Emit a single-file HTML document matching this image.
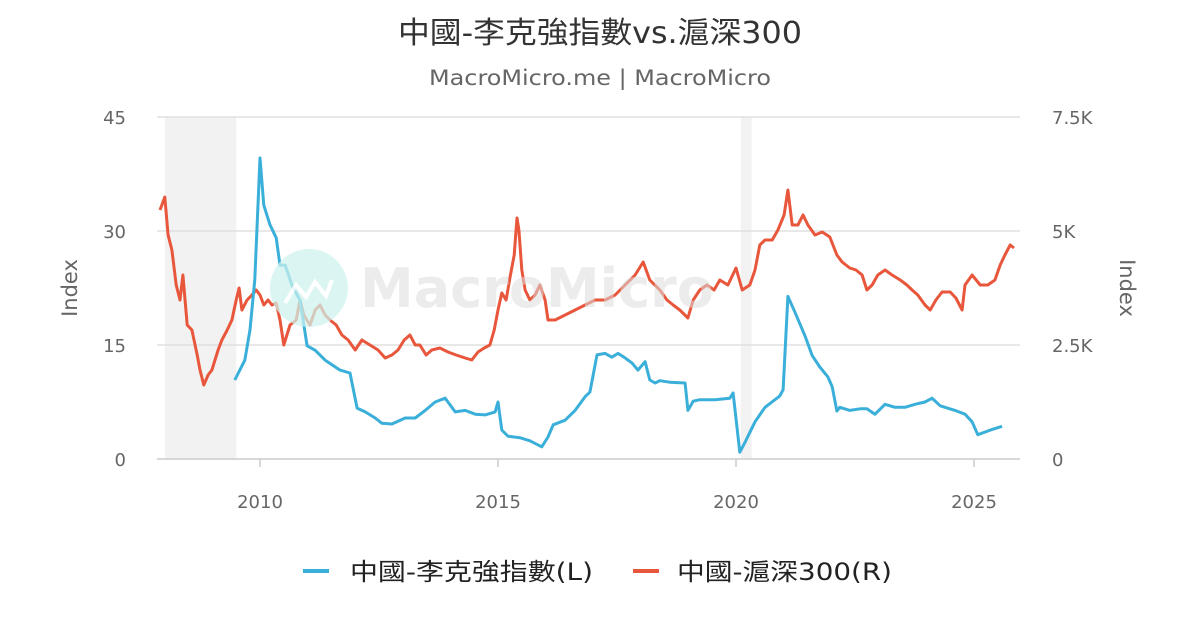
<!DOCTYPE html>
<html><head><meta charset="utf-8">
<style>
body{margin:0;background:#fff;width:1200px;height:630px;overflow:hidden;font-family:"Liberation Sans","Noto Sans CJK TC",sans-serif;}
svg text{font-family:"DejaVu Sans","Liberation Sans","Noto Sans CJK TC",sans-serif;}
</style></head>
<body>
<svg id="chart" width="1200" height="630" xmlns="http://www.w3.org/2000/svg">
<text x="600" y="43" text-anchor="middle" font-size="30" fill="#333" textLength="404" lengthAdjust="spacingAndGlyphs" style="font-family:'DejaVu Sans','Noto Sans CJK TC',sans-serif">中國-李克強指數vs.滬深300</text>
<text x="600" y="85" text-anchor="middle" font-size="21" fill="#666" textLength="342" lengthAdjust="spacingAndGlyphs">MacroMicro.me | MacroMicro</text>
<g id="grid"></g>
<g id="series"></g>
<g opacity="0.9">
<circle cx="309" cy="288" r="39" fill="#cdf3ec" opacity="0.8"/>
<polyline points="285,303 296,285 306,297 315,282 326,296 332,280" fill="none" stroke="#fff" stroke-width="4"/>
<text x="360" y="307" font-size="54" font-weight="bold" fill="#ddd" opacity="0.6">MacroMicro</text>
</g>
<text transform="translate(77,288) rotate(-90)" text-anchor="middle" font-size="21" fill="#666">Index</text>
<text transform="translate(1120,288) rotate(90)" text-anchor="middle" font-size="21" fill="#666">Index</text>
<g>
<line x1="303" y1="571" x2="329" y2="571" stroke="#3aafd9" stroke-width="4"/>
<text x="350" y="580" font-size="24" fill="#222" textLength="243" lengthAdjust="spacingAndGlyphs" style="font-family:'DejaVu Sans','Noto Sans CJK TC',sans-serif">中國-李克強指數(L)</text>
</g>
<g>
<line x1="633" y1="571" x2="659" y2="571" stroke="#e8563b" stroke-width="4"/>
<text x="677" y="580" font-size="24" fill="#222" textLength="215" lengthAdjust="spacingAndGlyphs" style="font-family:'DejaVu Sans','Noto Sans CJK TC',sans-serif">中國-滬深300(R)</text>
</g>
</svg>
<script>
const liYears=[2009.47,2009.68,2009.79,2009.89,2010.00,2010.08,2010.21,2010.34,2010.42,2010.53,2010.67,2010.84,2010.99,2011.16,2011.37,2011.68,2011.89,2012.04,2012.21,2012.42,2012.56,2012.77,2013.05,2013.26,2013.47,2013.68,2013.89,2014.10,2014.31,2014.52,2014.73,2014.94,2015.00,2015.08,2015.21,2015.46,2015.67,2015.92,2016.05,2016.16,2016.41,2016.62,2016.83,2016.93,2017.08,2017.25,2017.39,2017.52,2017.67,2017.82,2017.94,2018.09,2018.19,2018.30,2018.40,2018.61,2018.93,2018.99,2019.10,2019.24,2019.56,2019.87,2019.94,2020.08,2020.19,2020.40,2020.61,2020.82,2020.92,2020.99,2021.09,2021.24,2021.45,2021.60,2021.76,2021.93,2022.02,2022.12,2022.18,2022.39,2022.61,2022.75,2022.92,2023.13,2023.34,2023.55,2023.76,2023.97,2024.12,2024.29,2024.60,2024.81,2024.96,2025.08,2025.34,2025.59];
const liValues=[10.4,13.0,17.0,23.6,39.6,33.4,30.8,29.1,25.5,25.5,22.9,20.9,14.9,14.3,13.0,11.7,11.3,6.7,6.2,5.4,4.7,4.6,5.4,5.4,6.4,7.5,8.0,6.2,6.4,5.9,5.8,6.2,7.5,3.8,3.0,2.8,2.4,1.6,2.9,4.5,5.1,6.4,8.2,8.8,13.7,13.9,13.4,13.9,13.3,12.6,11.7,12.8,10.4,10.0,10.3,10.1,10.0,6.4,7.6,7.8,7.8,8.0,8.7,0.9,2.2,4.9,6.8,7.8,8.3,9.1,21.4,19.3,16.2,13.6,12.1,10.8,9.5,6.3,6.8,6.4,6.6,6.6,5.9,7.2,6.8,6.8,7.2,7.5,8.0,7.0,6.4,5.9,4.9,3.2,3.8,4.3];
const csiYears=[2007.90,2008.00,2008.07,2008.15,2008.24,2008.32,2008.38,2008.47,2008.57,2008.68,2008.74,2008.82,2008.91,2008.99,2009.12,2009.20,2009.31,2009.41,2009.50,2009.56,2009.62,2009.73,2009.83,2009.92,2010.00,2010.08,2010.17,2010.25,2010.34,2010.42,2010.50,2010.63,2010.76,2010.84,2010.92,2011.05,2011.16,2011.26,2011.37,2011.47,2011.60,2011.72,2011.85,2012.00,2012.14,2012.31,2012.48,2012.63,2012.77,2012.90,2013.03,2013.15,2013.26,2013.36,2013.49,2013.61,2013.78,2013.95,2014.12,2014.31,2014.45,2014.58,2014.71,2014.83,2014.92,2015.00,2015.08,2015.17,2015.25,2015.34,2015.40,2015.44,2015.50,2015.57,2015.67,2015.78,2015.88,2015.99,2016.05,2016.20,2016.41,2016.62,2016.83,2017.04,2017.25,2017.46,2017.67,2017.88,2018.05,2018.19,2018.40,2018.55,2018.68,2018.82,2018.99,2019.10,2019.24,2019.39,2019.54,2019.66,2019.83,2020.00,2020.13,2020.29,2020.40,2020.50,2020.61,2020.76,2020.88,2021.01,2021.09,2021.18,2021.30,2021.41,2021.51,2021.66,2021.81,2021.97,2022.12,2022.23,2022.39,2022.52,2022.65,2022.75,2022.86,2022.98,2023.13,2023.28,2023.45,2023.59,2023.70,2023.82,2023.97,2024.08,2024.20,2024.33,2024.50,2024.62,2024.75,2024.81,2024.96,2025.13,2025.29,2025.44,2025.55,2025.65,2025.76,2025.84];
const csiValues=[5460,5745,4912,4583,3816,3487,4035,2939,2829,2281,1952,1623,1842,1952,2390,2610,2829,3048,3487,3750,3268,3487,3597,3706,3597,3377,3487,3377,3421,3048,2500,2939,3048,3487,3158,2939,3268,3377,3158,3048,2939,2719,2610,2390,2610,2500,2390,2215,2281,2390,2610,2719,2500,2500,2281,2390,2434,2347,2281,2215,2171,2347,2434,2500,2829,3268,3640,3487,3969,4474,5285,5022,4145,3706,3487,3597,3816,3487,3048,3048,3158,3268,3377,3487,3487,3597,3816,4035,4320,3925,3706,3487,3377,3268,3092,3487,3706,3816,3706,3925,3816,4189,3706,3816,4145,4693,4803,4803,5022,5351,5899,5131,5131,5351,5131,4912,4978,4868,4474,4320,4189,4145,4035,3706,3816,4035,4145,4035,3925,3816,3706,3597,3377,3268,3487,3662,3662,3530,3268,3816,4035,3816,3816,3925,4254,4474,4693,4627];
const leftTicks=[0,15,30,45];
const rightTickLabels=["0","2.5K","5K","7.5K"];
const xTicks=[2010,2015,2020,2025];
const recessions=[[2008.0,2009.5],[2020.1,2020.33]];

const NS="http://www.w3.org/2000/svg";
const X0=157,X1=1020,Y0=459,Y1=117;
const xs=y=>260+(y-2010)*47.6;
const yl=v=>Y0-v*(Y0-Y1)/45;
const yr=v=>Y0-v*(Y0-Y1)/7500;
const grid=document.getElementById('grid'),ser=document.getElementById('series');
function mk(tag,attrs,parent,txt){const e=document.createElementNS(NS,tag);for(const k in attrs)e.setAttribute(k,attrs[k]);if(txt!==undefined)e.textContent=txt;parent.appendChild(e);return e;}
recessions.forEach(r=>{
 const e=mk('rect',{x:xs(r[0]),y:Y1,width:xs(r[1])-xs(r[0]),height:Y0-Y1,fill:'#f2f2f2'},grid);
 
 
});
leftTicks.forEach((t,i)=>{
 const y=yl(t);
 const l=mk('line',{x1:X0,x2:X1,y1:y,y2:y,stroke:i==0?'#ccc':'#e0e0e0','stroke-width':1.5},grid);
 
 
 const a=mk('text',{x:126,y:y+7,'text-anchor':'end','font-size':18,fill:'#666'},grid,String(t));
 
 
 const b=mk('text',{x:1052,y:y+7,'font-size':18,fill:'#666'},grid,rightTickLabels[i]);
 
 
});
xTicks.forEach(t=>{
 const x=xs(t);
 mk('line',{x1:x,x2:x,y1:Y0,y2:Y0+8,stroke:'#ccc','stroke-width':1.5},grid);
 const a=mk('text',{x:x,y:Y0+49,'text-anchor':'middle','font-size':18,fill:'#666'},grid,String(t));
 
 
});
function path(xsArr,vals,yf,color,name){
 const d=xsArr.map((t,i)=>(i?'L':'M')+xs(t).toFixed(1)+','+yf(vals[i]).toFixed(1)).join('');
 const p=mk('path',{d:d,fill:'none',stroke:color,'stroke-width':3,'stroke-linejoin':'round'},ser);
 
 
}
path(csiYears,csiValues,yr,'#e8563b','csi300-line');
path(liYears,liValues,yl,'#3aafd9','li-keqiang-line');
</script>
</body></html>
